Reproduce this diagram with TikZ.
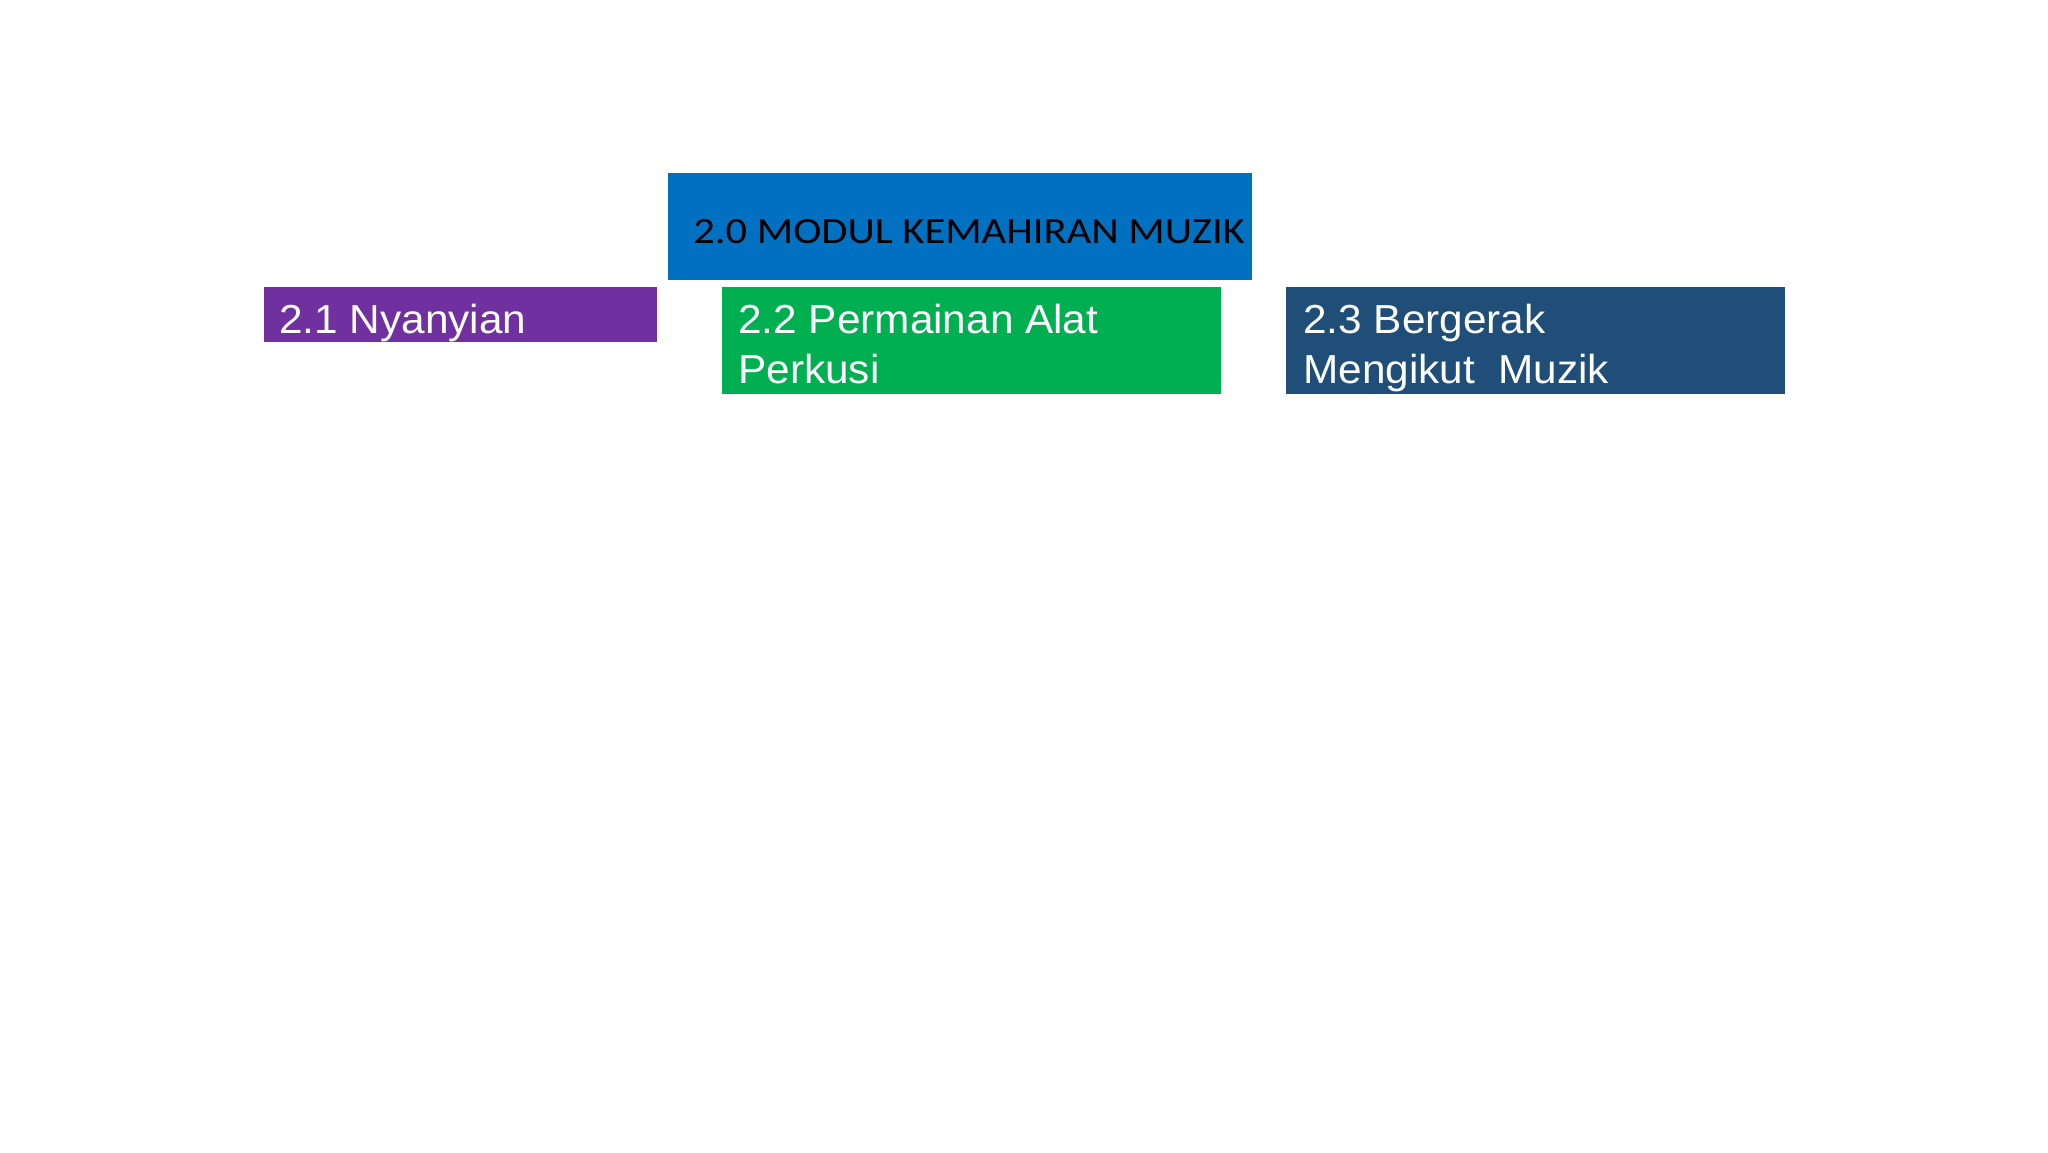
\documentclass[tikz,border=0pt]{standalone}
\usepackage{fontspec}
\newfontfamily\arialx[FakeStretch=1.045]{Liberation Sans}
\newfontfamily\calx[FakeStretch=1.15]{Carlito}
\definecolor{topblue}{HTML}{0070C0}
\definecolor{cpurple}{HTML}{7030A0}
\definecolor{cgreen}{HTML}{00B050}
\definecolor{cdarkblue}{HTML}{1F4E79}
\begin{document}
\begin{tikzpicture}[x=0.5pt,y=-0.5pt,
  box/.style={rectangle, draw=none, inner sep=0pt, outer sep=0pt, anchor=north west},
  wtext/.style={anchor=base west, inner sep=0pt, text=white, font=\arialx\fontsize{20.25pt}{25pt}\selectfont},
  ttext/.style={anchor=base west, inner sep=0pt, text=black, font=\calx\fontsize{18.5pt}{22pt}\selectfont}]
\useasboundingbox[fill=white] (0,0) rectangle (2048,1152);
% boxes
\node[box, fill=topblue, minimum width=292pt, minimum height=53.5pt] (b20) at (668,173) {};
\node[box, fill=cpurple, minimum width=196.5pt, minimum height=27.5pt] (b21) at (264,287) {};
\node[box, fill=cgreen, minimum width=249.5pt, minimum height=53.5pt] (b22) at (722,287) {};
\node[box, fill=cdarkblue, minimum width=249.5pt, minimum height=53.5pt] (b23) at (1286,287) {};
% texts
\node[ttext] (t20) at (693,243) {2.0 MODUL KEMAHIRAN MUZIK};
\node[wtext] (t21) at (279,333) {2.1 Nyanyian};
\node[wtext] (t22) at (738,333) {\begin{tabular}[t]{@{}l@{}}2.2 Permainan Alat\\Perkusi\end{tabular}};
\node[wtext] (t23) at (1303,333) {\begin{tabular}[t]{@{}l@{}}2.3 Bergerak\\Mengikut\ \ Muzik\end{tabular}};
\end{tikzpicture}
\end{document}
